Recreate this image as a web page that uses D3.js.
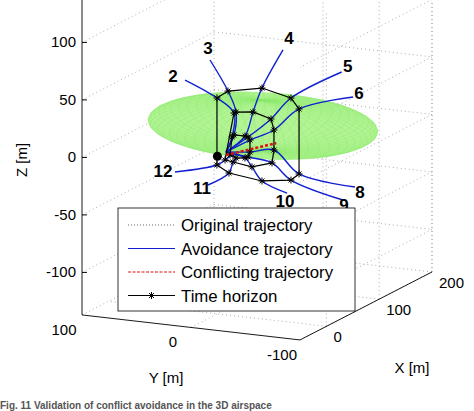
<!DOCTYPE html>
<html><head><meta charset="utf-8">
<script src="https://cdn.jsdelivr.net/npm/d3@7"></script>
<style>body{margin:0;background:#fff}text{font-family:"Liberation Sans",Arial,sans-serif}</style>
</head><body><svg id="c" width="474" height="411"></svg>
<script>
(function(){
    'use strict';

    // axis ranges and ticks (data units, metres)
    var xDomain = [-50, 200], yDomain = [-100, 100], zDomain = [-137, 137];
    var xTicks = [0, 100, 200], yTicks = [-100, 0, 100], zTicks = [-100, -50, 0, 50, 100];

    // avoidance trajectories: [y, z] at start, 3 time horizons, end (x = 0)
    var labels = ['2', '3', '4', '5', '6', '8', '9', '10', '11', '12'];
    var trajY = [
        [-7.9, -13.4, -15.2, 0.4, 29.7],
        [-7.9, -15.2, -17.1, -9.7, 6.8],
        [-7.9, -25.3, -32.7, -40.9, -60.2],
        [-7.9, -28.1, -49.2, -67.5, -114],
        [-7.9, -29.9, -51.9, -74.9, -124.4],
        [-7.9, -29.9, -51.9, -74.9, -126.2],
        [-7.9, -28.1, -50.1, -67.5, -115.2],
        [-7.9, -25.3, -31.7, -40.9, -63.9],
        [-7.9, -17.1, -14.3, -10.6, 8.6],
        [-7.9, -11.6, -7.0, 0.4, 38.9]
    ];
    var trajZ = [
        [4.6, 18.3, 39.3, 50.7, 63.1],
        [4.6, 20.2, 40.3, 57.8, 83.0],
        [4.6, 20.4, 42.1, 63.8, 99.0],
        [4.6, 19.8, 37.8, 58.0, 85.7],
        [4.6, 17.4, 28.5, 49.3, 65.1],
        [4.6, 7.0, 11.1, -7.2, -13.0],
        [4.6, 2.4, -0.3, -13.3, -25.5],
        [4.6, 1.3, -5.8, -17.0, -25.0],
        [4.6, 0.3, -3.4, -13.4, -25.9],
        [4.6, 2.4, -2.4, -7.6, -17.9]
    ];
    // conflicting trajectory [x, y, z]
    var conflict = [[0, -8, 2], [60, -25, 0]];
    // own aircraft position
    var ownPos = [0, 0, 0];
    // protection ellipsoid: centre and radii
    var ellCentre = [80, -3, 8], ellRadii = [70, 100, 22];

    var legendItems = ['Original trajectory', 'Avoidance trajectory', 'Conflicting trajectory', 'Time horizon'];

    /******************** projection ********************/
    // linear scales for each screen contribution of a data axis
    var xsx = d3.scaleLinear().domain([0, 1]).range([0, 0.528]);
    var xsy = d3.scaleLinear().domain([0, 1]).range([0, -0.272]);
    var ysx = d3.scaleLinear().domain([0, 1]).range([0, -1.09]);
    var ysy = d3.scaleLinear().domain([0, 1]).range([0, -0.125]);
    var zsy = d3.scaleLinear().domain([0, 1]).range([0, -1.15]);
    var ox = 217.4, oy = 156.3;

    function proj(p) {
        return [ox + xsx(p[0]) + ysx(p[1]), oy + xsy(p[0]) + ysy(p[1]) + zsy(p[2])];
    }

    var svg = d3.select('#c');
    var line = d3.line();
    var x0 = xDomain[0], x1 = xDomain[1], y0 = yDomain[0], y1 = yDomain[1], z0 = zDomain[0], z1 = zDomain[1];

    function seg(a, b, cls) {
        return svg.append('path').attr('d', line([proj(a), proj(b)])).attr('class', cls);
    }

    /******************** grid ********************/
    var grid = {stroke: '#999', 'stroke-width': 0.8, 'stroke-dasharray': '1,3', fill: 'none'};
    function gridSeg(a, b) {
        var p = seg(a, b, 'grid');
        Object.keys(grid).forEach(function(k){ p.attr(k, grid[k]); });
    }
    zTicks.forEach(function(z){
        gridSeg([x1, y1, z], [x1, y0, z]);
        gridSeg([x1, y0, z], [x0, y0, z]);
        gridSeg([x0, y1, z], [x1, y1, z]);
    });
    yTicks.forEach(function(y){
        gridSeg([x1, y, z0], [x1, y, z1]);
        gridSeg([x0, y, z0], [x1, y, z0]);
    });
    xTicks.forEach(function(x){
        gridSeg([x, y0, z0], [x, y0, z1]);
        gridSeg([x, y0, z0], [x, y1, z0]);
    });

    // solid axes
    [[[x0, y1, z0], [x0, y1, z1]], [[x0, y1, z0], [x0, y0, z0]], [[x0, y0, z0], [x1, y0, z0]]]
        .forEach(function(a){ seg(a[0], a[1], 'ax').attr('stroke', '#000').attr('stroke-width', 0.9); });

    // ticks + labels
    var fs = 15;
    zTicks.forEach(function(z){
        var p = proj([x0, y1, z]);
        svg.append('line').attr('x1', p[0]).attr('x2', p[0] + 5).attr('y1', p[1]).attr('y2', p[1]).attr('stroke', '#000');
        svg.append('text').attr('x', p[0] - 6).attr('y', p[1] + 5).attr('text-anchor', 'end').attr('font-size', fs).text(z);
    });
    yTicks.forEach(function(y){
        var p = proj([x0, y, z0]);
        svg.append('text').attr('x', p[0] - 18).attr('y', p[1] + 20).attr('text-anchor', 'middle').attr('font-size', fs).text(y);
    });
    xTicks.forEach(function(x){
        var p = proj([x, y0, z0]);
        svg.append('text').attr('x', p[0] + 7).attr('y', p[1] + 16).attr('font-size', fs).text(x);
    });
    svg.append('text').attr('transform', 'translate(27,160) rotate(-90)').attr('text-anchor', 'middle').attr('font-size', fs).text('Z [m]');
    svg.append('text').attr('x', 166).attr('y', 383).attr('text-anchor', 'middle').attr('font-size', fs).text('Y [m]');
    svg.append('text').attr('x', 412).attr('y', 373).attr('text-anchor', 'middle').attr('font-size', fs).text('X [m]');

    /******************** ellipsoid ********************/
    var ellPts = [], meridians = [];
    d3.range(0, 360, 6).forEach(function(th){
        var m = [];
        d3.range(-90, 91, 10).forEach(function(ph){
            var t = th * Math.PI / 180, f = ph * Math.PI / 180;
            var p = proj([ellCentre[0] + ellRadii[0] * Math.cos(f) * Math.cos(t),
                          ellCentre[1] + ellRadii[1] * Math.cos(f) * Math.sin(t),
                          ellCentre[2] + ellRadii[2] * Math.sin(f)]);
            ellPts.push(p); m.push(p);
        });
        meridians.push(m);
    });
    svg.append('path').attr('d', 'M' + d3.polygonHull(ellPts).join('L') + 'Z').attr('fill', '#b2f394');
    meridians.forEach(function(m){
        svg.append('path').attr('d', line(m)).attr('fill', 'none').attr('stroke', '#86e766').attr('stroke-width', 0.5).attr('opacity', 0.7);
    });

    /******************** trajectories ********************/
    var smooth = d3.line().curve(d3.curveCatmullRom);
    var trajPts = trajY.map(function(ys, i){
        return ys.map(function(y, k){ return proj([0, y, trajZ[i][k]]); });
    });
    trajPts.forEach(function(pts){
        svg.append('path').attr('d', smooth(pts)).attr('fill', 'none').attr('stroke', '#1020d0').attr('stroke-width', 1.4);
    });

    // time horizon rings
    [1, 2, 3].forEach(function(k){
        var ring = trajPts.map(function(pts){ return pts[k]; });
        svg.append('path').attr('d', 'M' + ring.join('L') + 'Z').attr('fill', 'none').attr('stroke', '#000').attr('stroke-width', 1.2);
        ring.forEach(function(p){ star(p[0], p[1]); });
    });
    function star(x, y) {
        var r = 3.5;
        svg.append('path').attr('d', 'M' + (x - r) + ',' + y + 'h' + 2 * r + 'M' + x + ',' + (y - r) + 'v' + 2 * r +
            'M' + (x - r * 0.7) + ',' + (y - r * 0.7) + 'l' + 1.4 * r + ',' + 1.4 * r +
            'M' + (x - r * 0.7) + ',' + (y + r * 0.7) + 'l' + 1.4 * r + ',' + -1.4 * r)
            .attr('stroke', '#000').attr('stroke-width', 1);
    }

    svg.append('path').attr('d', line(conflict.map(proj))).attr('stroke', '#e01010').attr('stroke-width', 2.5).attr('stroke-dasharray', '3,2');
    var op = proj(ownPos);
    svg.append('circle').attr('cx', op[0]).attr('cy', op[1]).attr('r', 4.5).attr('fill', '#000');

    var lblOff = [[-12, 2], [-2, -6], [6, -6], [6, 0], [6, 2], [5, 11], [1, 11], [-2, 14], [-6, 9], [-12, 5]];
    trajPts.forEach(function(pts, i){
        var e = pts[4];
        svg.append('text').attr('x', e[0] + lblOff[i][0]).attr('y', e[1] + lblOff[i][1])
            .attr('font-size', 17).attr('font-weight', 'bold').attr('text-anchor', 'middle').text(labels[i]);
    });

    /******************** legend ********************/
    var lg = svg.append('g').attr('transform', 'translate(118,208)');
    lg.append('rect').attr('width', 237).attr('height', 103).attr('fill', '#fff').attr('stroke', '#000').attr('stroke-width', 0.8);
    var styles = [
        {stroke: '#666', dash: '1,2', w: 1},
        {stroke: '#1020d0', dash: null, w: 1.2},
        {stroke: '#e01010', dash: '3,1.5', w: 1.2},
        {stroke: '#000', dash: null, w: 1.2}
    ];
    legendItems.forEach(function(t, i){
        var y = 17 + i * 23.5;
        lg.append('line').attr('x1', 10).attr('x2', 57).attr('y1', y).attr('y2', y)
            .attr('stroke', styles[i].stroke).attr('stroke-width', styles[i].w).attr('stroke-dasharray', styles[i].dash);
        lg.append('text').attr('x', 63).attr('y', y + 6).attr('font-size', 16.8).text(t);
    });
    star(118 + 33.5, 208 + 17 + 3 * 23.5);

    svg.append('text').attr('x', 0).attr('y', 409).attr('font-size', 10).attr('font-weight', 'bold').attr('fill', '#555')
        .text('Fig. 11 Validation of conflict avoidance in the 3D airspace');
})();
</script></body></html>
